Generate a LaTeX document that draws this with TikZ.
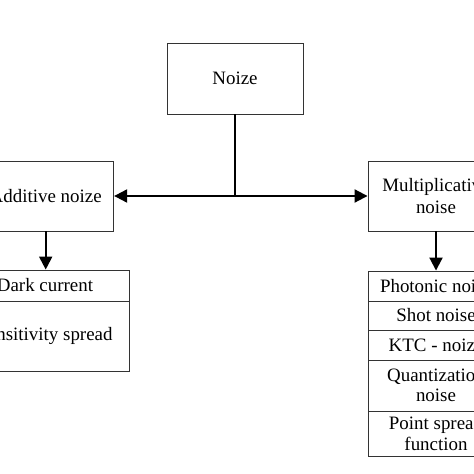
\documentclass[tikz,border=0pt]{standalone}
\usepackage{fontspec}
\setmainfont{Liberation Serif}
\usetikzlibrary{arrows.meta}
\begin{document}
\begin{tikzpicture}[x=1bp,y=-1bp,
  box/.style={draw=black!80, line width=0.9bp, minimum width=136bp, minimum height=70bp,
              inner sep=0pt, align=center, font=\fontsize{19}{23}\selectfont},
  leftrow/.style={box, minimum width=168bp},
  rightrow/.style={box, minimum width=136bp},
  conn/.style={line width=2bp, draw=black, -{Triangle[length=13bp,width=13bp]}},
  stem/.style={line width=2bp, draw=black}]
\useasboundingbox (0,0) rectangle (474,474);
\clip (0,0) rectangle (474,474);
\fill[white] (0,0) rectangle (474,474);
% top
\node[box, minimum height=71bp] (noize) at (235,78.5) {Noize};
\node[box] (add) at (45.7,196) {Additive noize};
\node[box] (mult) at (436,196) {Multiplicative\\noise};
% left stack
\node[leftrow, minimum height=31bp] (dark) at (45,285.5) {Dark current};
\node[leftrow, minimum height=70bp] (sens) at (45,336) {Sensitivity spread};
% right stack
\node[rightrow, minimum height=30bp] (phot) at (436,286) {Photonic noise};
\node[rightrow, minimum height=29bp] (shot) at (436,315.5) {Shot noise};
\node[rightrow, minimum height=30bp] (ktc) at (436,345) {KTC - noize};
\node[rightrow, minimum height=51bp, font=\fontsize{19}{20}\selectfont] (quant) at (436,385.5) {Quantization\\noise};
\node[rightrow, minimum height=45bp, font=\fontsize{19}{22}\selectfont] (psf) at (436,433.5) {Point spread\\function};
% connectors
\coordinate (j) at (noize.south |- add.east);
\draw[stem] (noize.south) -- (j);
\draw[conn] (j) -- (add.east);
\draw[conn] (j) -- (mult.west);
\draw[conn] (add.south) -- (add.south |- dark.north);
\draw[conn] (mult.south) -- (mult.south |- phot.north);
\end{tikzpicture}
\end{document}
